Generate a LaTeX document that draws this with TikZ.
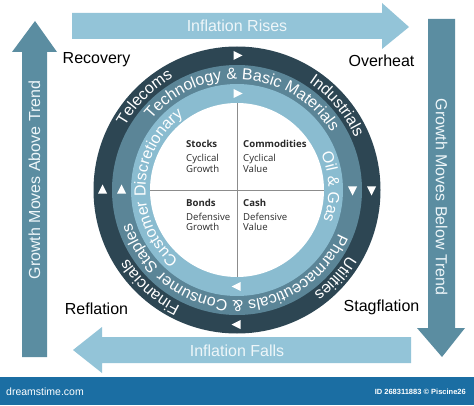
\documentclass[tikz,border=0pt]{standalone}
\usepackage{fontspec}
\setmainfont{Liberation Sans}
\newfontfamily\osans{Open Sans}
\usetikzlibrary{decorations.text,calc}
\definecolor{ringdark}{HTML}{2D4653}
\definecolor{ringmid}{HTML}{5B8597}
\definecolor{ringlight}{HTML}{8ABCD0}
\definecolor{arrowlight}{HTML}{93C4D8}
\definecolor{arrowdark}{HTML}{5B8DA1}
\definecolor{arrowtext}{HTML}{EEF6F9}
\definecolor{barblue}{HTML}{1B6EA3}
\definecolor{qline}{HTML}{8C8C8C}
\definecolor{qtextc}{HTML}{2A2A2A}
\newcommand\ringfont{\fontsize{16}{16}\selectfont\color{white}}
\newcommand\ringtext[4]{%
  \path[decorate,decoration={text along path,text align=center,text={|\ringfont|#4}}]
    ($(c)+(#2:#1)$) arc[start angle=#2,end angle=#3,radius=#1];}
\newcommand\ringtri[2]{%
  \begin{scope}[shift={(c)},rotate=#1]
    \fill[white] (#2-4.5,3.5) -- (#2+4.5,3.5) -- (#2,-5.5) -- cycle;
  \end{scope}}
\tikzset{
  phase/.style={font=\fontsize{16}{16}\selectfont, text=black, inner sep=0pt},
  arrowlbl/.style={font=\fontsize{16}{16}\selectfont, text=arrowtext, inner sep=0pt},
  qhead/.style={font=\osans\bfseries\fontsize{9.6}{9.6}\selectfont, text=qtextc, inner sep=0pt, anchor=base west},
  qbody/.style={font=\osans\fontsize{9.6}{9.6}\selectfont, text=qtextc, inner sep=0pt, anchor=base west},
}
\begin{document}
\begin{tikzpicture}[x=1pt,y=1pt]
\useasboundingbox (0,0) rectangle (474,405);
\fill[white] (0,0) rectangle (474,405);
% arrows
\fill[arrowlight] (72,392) -- (382,392) -- (382,402) -- (409,378) -- (382,356) -- (382,366) -- (72,366) -- cycle;
\fill[arrowlight] (411,68) -- (102,68) -- (102,78) -- (73,55) -- (102,32) -- (102,42) -- (411,42) -- cycle;
\fill[arrowdark] (22,48) -- (22,353) -- (12,353) -- (35,384) -- (57,353) -- (47,353) -- (47,48) -- cycle;
\fill[arrowdark] (428,386) -- (428,77) -- (417,77) -- (442,48) -- (465,77) -- (455,77) -- (455,386) -- cycle;
\node[arrowlbl] (rises) at (237,379) {Inflation Rises};
\node[arrowlbl] (falls) at (237,54) {Inflation Falls};
\node[arrowlbl, rotate=90] (above) at (34.5,225) {Growth Moves Above Trend};
\node[arrowlbl, rotate=-90] (below) at (441.5,208) {Growth Moves Below Trend};
% phase labels
\node[phase] (recovery) at (96.5,345) {Recovery};
\node[phase] (overheat) at (381.5,344) {Overheat};
\node[phase] (reflation) at (96.5,96) {Reflation};
\node[phase] (stagflation) at (381.5,98) {Stagflation};
% rings
\coordinate (c) at (237,215);
\fill[ringdark] (c) circle[radius=143.5pt];
\fill[ringmid] (c) circle[radius=125pt];
\fill[ringlight] (c) circle[radius=106pt];
\fill[white] (c) circle[radius=87pt];
\draw[qline, line width=0.9pt] ($(c)+(0,87)$) -- ($(c)+(0,-87)$);
\draw[qline, line width=0.9pt] ($(c)+(-87,0)$) -- ($(c)+(87,0)$);
% ring texts
\ringtext{129pt}{160}{110}{Telecoms}
\ringtext{129pt}{65}{15}{Industrials}
\ringtext{129pt}{-17}{-67}{Utilities}
\ringtext{129pt}{-107}{-157}{Financials}
\ringtext{110.5pt}{151}{21}{Technology {\&} Basic Materials}
\ringtext{110.5pt}{-13}{-173}{Pharmaceuticals {\&} Consumer Staples}
\ringtext{91.5pt}{238}{118}{Customer Discretionary}
\ringtext{91.5pt}{32}{-28}{Oil {\&} Gas}
% triangles
\ringtri{90}{134.5}
\ringtri{90}{96.5}
\ringtri{180}{134.5}
\ringtri{180}{115.5}
\ringtri{0}{134.5}
\ringtri{0}{115.5}
\ringtri{270}{134.5}
\ringtri{270}{96.5}
% quadrants
\node[qhead] (stocksH) at (186,257.5) {Stocks};
\node[qbody] (stocks1) at (186,243.5) {Cyclical};
\node[qbody] (stocks2) at (186,232.5) {Growth};
\node[qhead] (commH) at (243,257.5) {Commodities};
\node[qbody] (comm1) at (243,243.5) {Cyclical};
\node[qbody] (comm2) at (243,232.5) {Value};
\node[qhead] (bondsH) at (186,199) {Bonds};
\node[qbody] (bonds1) at (186,185) {Defensive};
\node[qbody] (bonds2) at (186,174.3) {Growth};
\node[qhead] (cashH) at (243,199) {Cash};
\node[qbody] (cash1) at (243,185) {Defensive};
\node[qbody] (cash2) at (243,174.3) {Value};
% bottom bar
\fill[barblue] (0,0) rectangle (474,28);
\node[font=\fontsize{10.5}{10.5}\selectfont, text=white, inner sep=0pt, anchor=west] (dt) at (6,13) {dreamstime.com};
\node[font=\bfseries\fontsize{7.5}{7.5}\selectfont, text=white, inner sep=0pt, anchor=east] (id) at (466,13) {ID 268311883 \textcopyright{} Piscine26};
\end{tikzpicture}
\end{document}
